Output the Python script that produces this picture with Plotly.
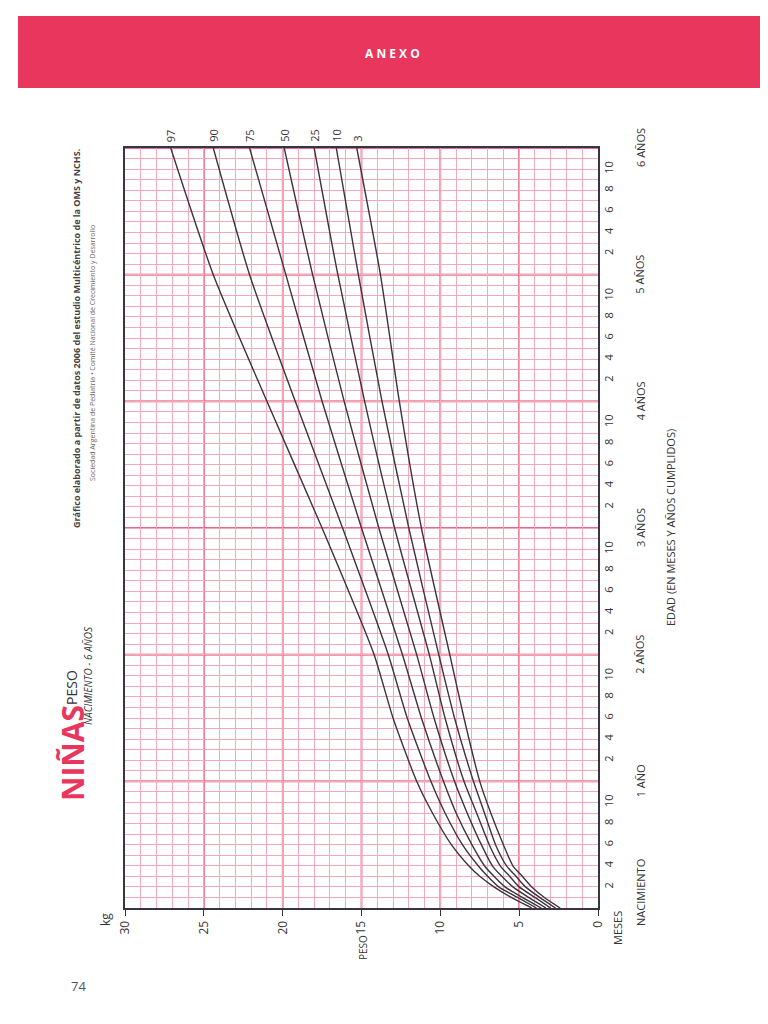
import plotly.graph_objects as go

# age in months, weight (kg) per percentile
meses = [0, 1, 2, 3, 4, 6, 9, 12, 18, 24, 36, 48, 60, 72]
p97 = [4.2, 5.5, 6.6, 7.5, 8.2, 9.3, 10.5, 11.5, 13.0, 14.2, 17.5, 21.0, 24.4, 27.1]
p90 = [3.9, 5.1, 6.3, 7.0, 7.6, 8.6, 9.7, 10.6, 12.1, 13.3, 16.2, 19.2, 22.1, 24.4]
p75 = [3.6, 4.8, 5.9, 6.6, 7.2, 8.0, 9.0, 9.8, 11.2, 12.4, 15.0, 17.5, 19.8, 22.1]
p50 = [3.3, 4.4, 5.4, 6.1, 6.7, 7.4, 8.3, 9.1, 10.4, 11.5, 13.9, 16.1, 18.1, 19.9]
p25 = [3.0, 4.0, 5.0, 5.6, 6.2, 6.9, 7.7, 8.5, 9.7, 10.7, 12.9, 14.8, 16.5, 18.0]
p10 = [2.7, 3.7, 4.6, 5.2, 5.8, 6.5, 7.2, 7.9, 9.1, 10.1, 12.0, 13.7, 15.2, 16.6]
p3 = [2.4, 3.4, 4.2, 4.8, 5.4, 6.0, 6.8, 7.5, 8.5, 9.4, 11.2, 12.6, 13.8, 15.3]
percentiles = {"97": p97, "90": p90, "75": p75, "50": p50, "25": p25, "10": p10, "3": p3}

kg_ticks = [0, 5, 10, 15, 20, 25, 30]
year_labels = ["1 AÑO", "2 AÑOS", "3 AÑOS", "4 AÑOS", "5 AÑOS", "6 AÑOS"]

PINK = "#e8365d"
L, R, T, B = 117, 590, 140, 900


def px(x, y):
    # page pixels -> paper coords
    return (x - L) / (R - L), (B - y) / (B - T)


fig = go.Figure()
for name, vals in percentiles.items():
    fig.add_trace(go.Scatter(x=vals, y=meses, mode="lines", line=dict(color="#3a3440", width=1.4, shape="spline", smoothing=0.6),
                             name=name, showlegend=False))
    fig.add_annotation(x=vals[-1], y=72, yref="y", text=name, showarrow=False, textangle=-90,
                       xanchor="center", yanchor="bottom", yshift=4, font=dict(size=11, color="#333"))

# age ticks: 2,4,...,10 each year
tv, tt = [], []
for yr in range(6):
    for m in (2, 4, 6, 8, 10):
        tv.append(yr * 12 + m)
        tt.append(str(m))

fig.update_xaxes(range=[30, 0], tickvals=kg_ticks, tickangle=-90, showgrid=False,
                 minor=dict(dtick=1, showgrid=True, gridcolor="#f4a9bb", gridwidth=1),
                 showline=True, linecolor="#3a3440", linewidth=2, mirror=True, zeroline=False,
                 ticks="outside", ticklen=6, tickcolor="#333", tickfont=dict(size=12, color="#333"))
fig.update_yaxes(range=[0, 72], side="right", tickvals=tv, ticktext=tt, tickangle=-90, showgrid=False,
                 minor=dict(dtick=1, showgrid=True, gridcolor="#f4a9bb", gridwidth=1),
                 showline=True, linecolor="#3a3440", linewidth=2, mirror=True, zeroline=False,
                 ticks="", tickfont=dict(size=11, color="#333"))
for k in kg_ticks[1:-1]:
    fig.add_vline(x=k, line=dict(color=PINK, width=1.6), layer="below")
for yr in range(1, 7):
    fig.add_hline(y=yr * 12, line=dict(color=PINK, width=1.6), layer="below")
    fig.add_annotation(x=px(632, 0)[0], xref="paper", y=yr * 12, text=year_labels[yr - 1], showarrow=False,
                       textangle=-90, xanchor="center", yanchor="middle", font=dict(size=11, color="#333"))

texts = [
    (609, 920, "MESES", 11, "#333"),
    (632, 885, "NACIMIENTO", 11, "#333"),
    (662, 520, "EDAD (EN MESES Y AÑOS CUMPLIDOS)", 11, "#333"),
    (355, 940, "PESO", 10, "#333"),
    (97, 912, "kg", 12, "#333"),
    (68, 330, "<b>Gráfico elaborado a partir de datos 2006 del estudio Multicéntrico de la OMS y NCHS.</b>", 9, "#444"),
    (84, 345, "Sociedad Argentina de Pediatría • Comité Nacional de Crecimiento y Desarrollo", 7, "#666"),
    (64, 745, "<b>NIÑAS</b>", 30, PINK),
    (63, 680, "PESO", 14, "#333"),
    (80, 668, "<i>NACIMIENTO - 6 AÑOS</i>", 10, "#333"),
]
for x, y, t, s, c in texts:
    xp, yp = px(x, y)
    fig.add_annotation(x=xp, y=yp, xref="paper", yref="paper", text=t, showarrow=False, textangle=-90,
                       xanchor="center", yanchor="middle", font=dict(size=s, color=c))

# header band
x0, y0 = px(10, 80)
x1, y1 = px(760, 8)
fig.add_shape(type="rect", xref="paper", yref="paper", x0=x0, y0=y0, x1=x1, y1=y1, fillcolor=PINK, line_width=0)
xp, yp = px(384, 45)
fig.add_annotation(x=xp, y=yp, xref="paper", yref="paper", text="<b>A N E X O</b>", showarrow=False,
                   xanchor="center", yanchor="middle", font=dict(size=12, color="white"))
xp, yp = px(70, 978)
fig.add_annotation(x=xp, y=yp, xref="paper", yref="paper", text="74", showarrow=False,
                   xanchor="center", yanchor="middle", font=dict(size=13, color="#555"))

fig.update_layout(width=768, height=1024, margin=dict(l=L, r=768 - R, t=T, b=1024 - B),
                  paper_bgcolor="white", plot_bgcolor="white", font=dict(family="Open Sans"))
fig.write_html("out.html")
